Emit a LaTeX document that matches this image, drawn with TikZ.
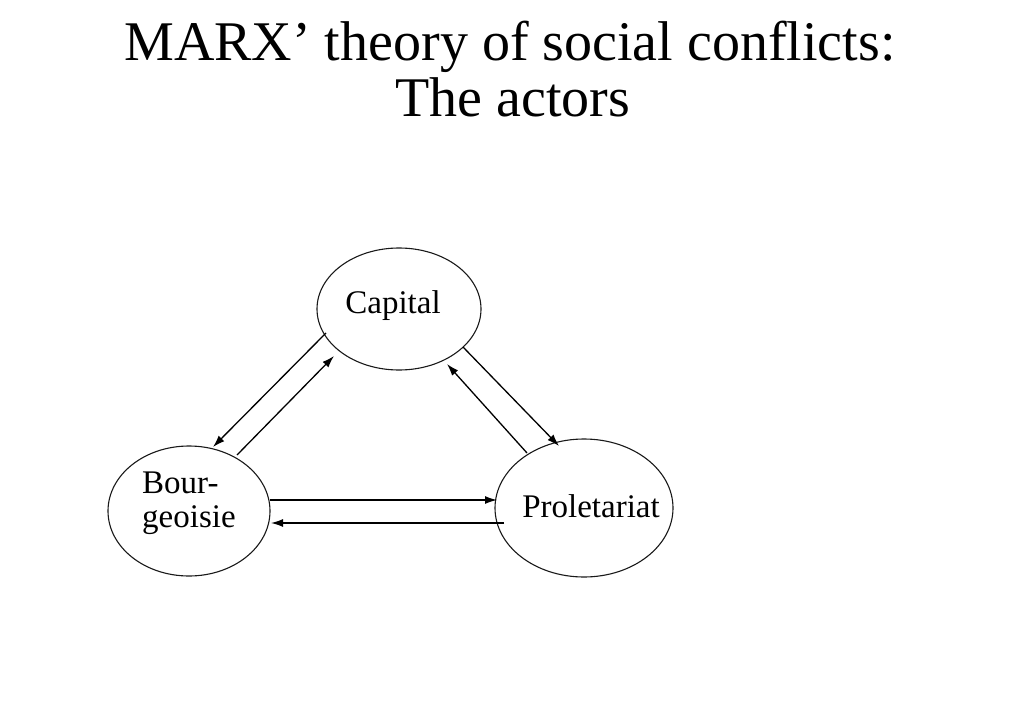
\documentclass[tikz,border=0pt]{standalone}
\usepackage{fontspec}
\setmainfont{Liberation Serif}
\usetikzlibrary{arrows.meta,shapes.geometric,calc}
\tikzset{
  actor/.style={draw=black!90,line width=1.1pt,ellipse,inner sep=0pt},
  lbl/.style={inner sep=0pt,anchor=base,font=\fontsize{33}{36}\selectfont},
  ttl/.style={inner sep=0pt,anchor=base,font=\fontsize{56}{57}\selectfont},
  flow/.style={line width=1.3pt,-{Latex[length=12pt,width=8pt]}}
}
\begin{document}
\begin{tikzpicture}[x=1pt,y=-1pt]
\useasboundingbox[fill=white] (0,0) rectangle (1024,727);
\node[ttl] (t1) at (510,61) {MARX’ theory of social conflicts:};
\node[ttl] (t2) at (513,117) {The actors};
\node[actor,minimum width=164pt,minimum height=122pt] (cap) at (399,309) {};
\node[actor,minimum width=162pt,minimum height=130pt] (bou) at (189,511) {};
\node[actor,minimum width=178pt,minimum height=138pt] (pro) at (584,508) {};
\node[lbl] (capt) at (393,313) {Capital};
\node[lbl,anchor=base west] (bout1) at (142,493) {Bour-};
\node[lbl,anchor=base west] (bout2) at (142,527) {geoisie};
\node[lbl] (prot) at (591,517) {Proletariat};
\draw[flow] ($(cap)+(-73,24)$) -- ($(bou)+(24,-64)$);
\draw[flow] ($(bou)+(48,-56)$) -- ($(cap)+(-65,47)$);
\draw[flow] ($(cap)+(64,38)$) -- ($(pro)+(-25,-62)$);
\draw[flow] ($(pro)+(-57,-55)$) -- ($(cap)+(48,55)$);
\draw[flow] ($(bou)+(81,-11)$) -- ($(pro)+(-87,-8)$);
\draw[flow] ($(pro)+(-80,15)$) -- ($(bou)+(82,12)$);
\end{tikzpicture}
\end{document}
